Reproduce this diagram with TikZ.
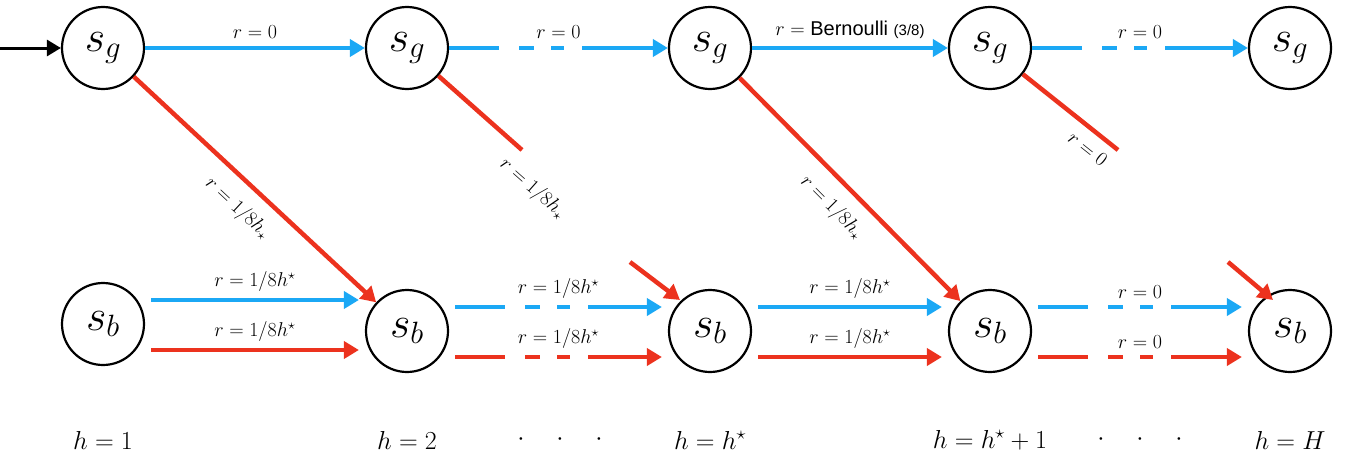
\RequirePackage{fix-cm}
\documentclass[tikz,border=0pt]{standalone}
\usepackage{fontspec}
\newfontfamily\sansf{Liberation Sans}
\usetikzlibrary{arrows.meta}
\definecolor{cblue}{RGB}{27,168,245}
\definecolor{cred}{RGB}{236,50,30}
\begin{document}
\begin{tikzpicture}[x=1pt,y=-1pt,
  st/.style={circle,draw,line width=2.2pt,minimum size=82pt,inner sep=0pt,font=\fontsize{44}{46}\selectfont},
  ar/.style={line width=4.5pt,-{Triangle[length=15pt,width=17pt]}},
  ln/.style={line width=4.5pt},
  dsh/.style={dash pattern=on 50pt off 20pt on 15pt off 17pt on 13pt off 18pt on 200pt},
  lb/.style={font=\fontsize{20}{22}\selectfont,text=black},
  hl/.style={font=\fontsize{26}{28}\selectfont}]
\useasboundingbox (0,0) rectangle (1352,471);
\foreach \n/\x in {1/103,2/407,3/710,4/990,5/1290}{
  \node[st] (g\n) at (\x,48) {$s_g$};
}
\node[st] (b1) at (103,324) {$s_b$};
\foreach \n/\x in {2/407,3/710,4/990,5/1290}{
  \node[st] (b\n) at (\x,331) {$s_b$};
}
\coordinate (start) at (0,48);
\draw[line width=3pt,-{Triangle[length=14pt,width=16pt]}] (start) -- (g1);
% top arrows
\draw[ar,cblue] (g1) -- node[above=4pt,lb]{$r=0$} (g2);
\draw[ar,cblue,dsh] (g2) -- node[above=4pt,lb]{$r=0$} (g3);
\draw[ar,cblue] (g3) -- node[above=4pt,lb]{$r={}${\sansf Bernoulli \fontsize{15}{17}\selectfont(3/8)}} (g4);
\draw[ar,cblue,dsh] (g4) -- node[above=4pt,lb]{$r=0$} (g5);
% bottom arrows
\foreach \a/\b/\s/\t in {1/2/solid/{1/8h^\star},2/3/dsh/{1/8h^\star},3/4/solid/{1/8h^\star},4/5/dsh/0}{
  \coordinate (bu\a) at ([yshift=24pt]b\a.east);
  \coordinate (bd\a) at ([yshift=-26pt]b\a.east);
  \path (b\b.west |- bu\a) coordinate (eu\a);
  \path (b\b.west |- bd\a) coordinate (ed\a);
  \draw[ar,cblue,\s] ([xshift=6pt]bu\a) -- node[above=3pt,lb]{$r=\t$} ([xshift=-6pt]eu\a);
  \draw[ar,cred,\s] ([xshift=6pt]bd\a) -- node[above=3pt,lb]{$r=\t$} ([xshift=-6pt]ed\a);
}
% diagonals
\draw[ar,cred] (g1) -- node[pos=0.5,sloped,below=10pt,lb]{$r=1/8h_{\star}$} (b2);
\coordinate (d2a) at (522,150);
\coordinate (d2b) at (630,262);
\coordinate (d2c) at (680,300);
\draw[ln,cred] (g2) -- node[pos=1.3,sloped,below=6pt,lb]{$r=1/8h_{\star}$} (d2a);
\draw[ar,cred] (d2b) -- (d2c);
\draw[ar,cred] (g3) -- node[pos=0.5,sloped,below=10pt,lb]{$r=1/8h_{\star}$} (b4);
\coordinate (d4a) at (1118,150);
\coordinate (d4b) at (1228,262);
\coordinate (d4c) at (1273,300);
\draw[ln,cred] (g4) -- node[pos=0.8,sloped,below=6pt,lb]{$r=0$} (d4a);
\draw[ar,cred] (d4b) -- (d4c);
% bottom labels
\node[hl] (h1) at (103,440) {$h=1$};
\node[hl] (h2) at (407,440) {$h=2$};
\node[hl] (dd1) at (560,440) {$\cdot\quad\cdot\quad\cdot$};
\node[hl] (h3) at (710,440) {$h=h^\star$};
\node[hl] (h4) at (990,440) {$h=h^\star+1$};
\node[hl] (dd2) at (1140,440) {$\cdot\quad\cdot\quad\cdot$};
\node[hl] (h5) at (1290,440) {$h=H$};
\end{tikzpicture}
\end{document}
